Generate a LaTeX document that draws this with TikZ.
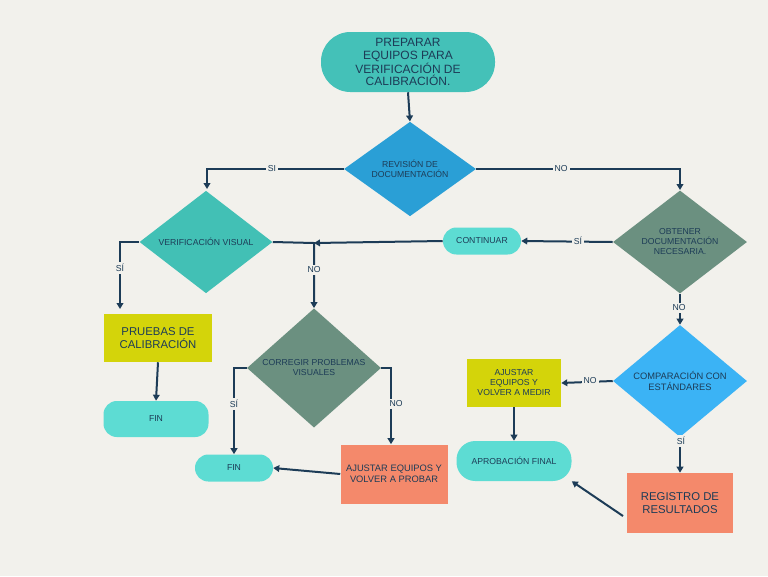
\documentclass[tikz,border=0pt]{standalone}
\usepackage{fontspec}
\setmainfont{Liberation Sans}
\usetikzlibrary{shapes.geometric,arrows.meta}
\definecolor{bg}{HTML}{F2F1EC}
\definecolor{navy}{HTML}{1D3C57}
\definecolor{teal}{HTML}{44C1B8}
\definecolor{blue1}{HTML}{2A9FD6}
\definecolor{teal2}{HTML}{42C0B5}
\definecolor{sage}{HTML}{6B9080}
\definecolor{sky}{HTML}{3BB3F5}
\definecolor{cyanl}{HTML}{5DDCD3}
\definecolor{yel}{HTML}{D4D40A}
\definecolor{salm}{HTML}{F4896B}
\begin{document}
\begin{tikzpicture}[x=0.75pt,y=-0.75pt,
  txt/.style={text=navy,align=center,font=\fontsize{6.5}{7.5}\selectfont},
  dia/.style={diamond,draw=none,inner sep=0pt,txt},
  rnd/.style={rounded corners=10pt,fill=cyanl,txt,inner sep=0pt},
  box/.style={txt,inner sep=0pt,font=\fontsize{8.5}{9.5}\selectfont},
  lab/.style={text=navy,font=\fontsize{6.5}{7.5}\selectfont,fill=bg,inner sep=1.5pt},
  ln/.style={draw=navy,line width=1.5pt},
  arr/.style={ln,-{Triangle[length=4.5pt,width=5pt]}}]
\fill[bg] (0,0) rectangle (768,576);
\node[txt,fill=teal,rounded corners=22pt,minimum width=174*0.75pt,minimum height=60*0.75pt,font=\fontsize{9}{9.5}\selectfont] (start) at (408,62) {PREPARAR\\EQUIPOS PARA\\VERIFICACIÓN DE\\CALIBRACIÓN.};
\node[dia,fill=blue1,minimum width=132*0.75pt,minimum height=84*0.75pt] (d1) at (410,169) {REVISIÓN DE\\DOCUMENTACIÓN};
\node[dia,fill=teal2,minimum width=133*0.75pt,minimum height=85*0.75pt] (d2) at (206,242) {VERIFICACIÓN VISUAL};
\node[dia,fill=sage,minimum width=134*0.75pt,minimum height=87*0.75pt] (d3) at (680,242) {OBTENER\\DOCUMENTACIÓN\\NECESARIA.};
\node[rnd,minimum width=78*0.75pt,minimum height=27*0.75pt] (cont) at (482,241) {CONTINUAR};
\node[box,fill=yel,minimum width=108*0.75pt,minimum height=48*0.75pt] (pru) at (158,338) {PRUEBAS DE\\CALIBRACIÓN};
\node[rnd,minimum width=105*0.75pt,minimum height=36*0.75pt] (fin1) at (156,419) {FIN};
\node[dia,fill=sage,minimum width=134*0.75pt,minimum height=84*0.75pt] (d4) at (314,368) {CORREGIR PROBLEMAS\\VISUALES};
\node[rnd,minimum width=78*0.75pt,minimum height=27*0.75pt] (fin2) at (234,468) {FIN};
\node[box,fill=salm,minimum width=107*0.75pt,minimum height=59*0.75pt,font=\fontsize{7}{8.5}\selectfont] (ajp) at (394,474) {AJUSTAR EQUIPOS Y\\VOLVER A PROBAR};
\node[dia,fill=sky,minimum width=134*0.75pt,minimum height=86*0.75pt,font=\fontsize{7}{8}\selectfont] (d5) at (680,381) {COMPARACIÓN CON\\ESTÁNDARES};
\node[txt,fill=yel,inner sep=0pt,minimum width=94*0.75pt,minimum height=48*0.75pt] (ajm) at (514,383) {AJUSTAR\\EQUIPOS Y\\VOLVER A MEDIR};
\node[rnd,rounded corners=14pt,minimum width=115*0.75pt,minimum height=40*0.75pt] (apr) at (514,461) {APROBACIÓN FINAL};
\node[box,fill=salm,minimum width=106*0.75pt,minimum height=60*0.75pt] (reg) at (680,503) {REGISTRO DE\\RESULTADOS};
\coordinate (j1) at (314,243);
\coordinate (rw) at (623,516);
% connectors
\draw[arr] (start.south) -- (d1.north);
\draw[arr] (d1.west) -- (207,169) -- (207,189);
\node[lab] at (272,169) {SI};
\draw[arr] (d1.east) -- (680,169) -- (680,190);
\node[lab] at (561,169) {NO};
\draw[arr] (d3.west) -- (cont.east);
\node[lab] at (578,241) {SÍ};
\draw[arr] (cont.west) -- (j1);
\draw[arr] (d2.east) -- (j1) -- (d4.north);
\node[lab] at (314,270) {NO};
\draw[arr] (d2.west) -- (120,242) -- (120,309);
\node[lab] at (120,268) {SÍ};
\draw[arr] (pru.south) -- (fin1.north);
\draw[arr] (d4.west) -- (234,368) -- (fin2.north);
\node[lab] at (234,404) {SÍ};
\draw[arr] (d4.east) -- (391,368) -- (ajp.north -| 391,0);
\node[lab] at (396,404) {NO};
\draw[arr] (ajp.west) -- (fin2.east);
\draw[arr] (d3.south) -- (d5.north);
\node[lab] at (679,308) {NO};
\draw[arr] (d5.west) -- (ajm.east);
\node[lab] at (590,381) {NO};
\draw[arr] (ajm.south) -- (apr.north);
\draw[arr] (d5.south) -- (reg.north);
\node[lab] at (681,441) {SÍ};
\draw[arr] (rw) -- (apr.south east);
\end{tikzpicture}
\end{document}
